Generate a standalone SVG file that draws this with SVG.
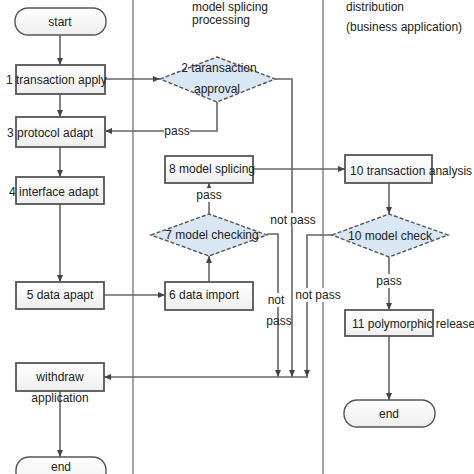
<svg xmlns="http://www.w3.org/2000/svg" width="474" height="474" viewBox="0 0 474 474">
<defs>
<marker id="ah" markerWidth="8" markerHeight="8" refX="7" refY="4" orient="auto" markerUnits="userSpaceOnUse">
<path d="M0,1 L7,4 L0,7 Z" fill="#444"/>
</marker>
<linearGradient id="bg" x1="0" y1="0" x2="0" y2="1">
<stop offset="0" stop-color="#ffffff"/>
<stop offset="1" stop-color="#eeeeee"/>
</linearGradient>
</defs>
<style>
text{font-family:"Liberation Sans",Arial,sans-serif;font-size:12px;fill:#222}
.box{fill:url(#bg);stroke:#555;stroke-width:1.8}
.pill{fill:url(#bg);stroke:#555;stroke-width:1.4}
.dia{fill:#d9e6f3;stroke:#555;stroke-width:1.4;stroke-dasharray:4 2}
.lane{stroke:#9a9a9a;stroke-width:1.8;fill:none}
.c{stroke:#666;stroke-width:1.6;fill:none}
.lbl{fill:#fff}
.m{text-anchor:middle}
</style>
<rect width="474" height="474" fill="#fff"/>
<g id="lanes">
<line class="lane" x1="133" y1="0" x2="133" y2="474"/>
<line class="lane" x1="323" y1="0" x2="323" y2="474"/>
<text x="192" y="11">model splicing</text>
<text x="192" y="24">processing</text>
<text x="346" y="11">distribution</text>
<text x="346" y="31">(business application)</text>
</g>
<g id="connectors">
<line class="c" x1="60" y1="35" x2="60" y2="65" marker-end="url(#ah)"/>
<line class="c" x1="60" y1="94" x2="60" y2="117" marker-end="url(#ah)"/>
<line class="c" x1="60" y1="147" x2="60" y2="177" marker-end="url(#ah)"/>
<line class="c" x1="60" y1="204" x2="60" y2="282" marker-end="url(#ah)"/>
<line class="c" x1="60" y1="391" x2="60" y2="457" marker-end="url(#ah)"/>
<line class="c" x1="105" y1="79" x2="160" y2="79" marker-end="url(#ah)"/>
<polyline class="c" points="217,102 217,131 105,131" marker-end="url(#ah)"/>
<polyline class="c" points="275,79 292,79 292,377" marker-end="url(#ah)"/>
<line class="c" x1="104" y1="295" x2="165" y2="295" marker-end="url(#ah)"/>
<line class="c" x1="209" y1="282" x2="209" y2="256" marker-end="url(#ah)"/>
<line class="c" x1="209" y1="214" x2="209" y2="183" marker-end="url(#ah)"/>
<polyline class="c" points="267,234 278,234 278,377" marker-end="url(#ah)"/>
<line class="c" x1="253" y1="169" x2="345" y2="169" marker-end="url(#ah)"/>
<line class="c" x1="389" y1="183" x2="389" y2="214" marker-end="url(#ah)"/>
<line class="c" x1="389" y1="257" x2="389" y2="310" marker-end="url(#ah)"/>
<line class="c" x1="389" y1="336" x2="389" y2="400" marker-end="url(#ah)"/>
<polyline class="c" points="332,235 307,235 307,377" marker-end="url(#ah)"/>
<line class="c" x1="308" y1="377" x2="104" y2="377" marker-end="url(#ah)"/>
<rect class="lbl" x="164" y="124" width="26" height="14"/>
<text class="m" x="177" y="135">pass</text>
<rect class="lbl" x="196" y="188" width="26" height="14"/>
<text class="m" x="209" y="199">pass</text>
<rect class="lbl" x="271" y="213" width="44" height="14"/>
<text class="m" x="293" y="224">not pass</text>
<rect class="lbl" x="265" y="293" width="22" height="14"/>
<text class="m" x="276" y="304">not</text>
<text class="m" x="279" y="325">pass</text>
<rect class="lbl" x="295" y="288" width="46" height="14"/>
<text class="m" x="318" y="299">not pass</text>
<rect class="lbl" x="376" y="274" width="26" height="14"/>
<text class="m" x="389" y="285">pass</text>
</g>
<g id="n-start"><rect class="pill" x="15" y="8" width="91" height="27" rx="13"/><text class="m" x="60" y="26">start</text></g>
<g id="n1"><rect class="box" x="16" y="65" width="89" height="29"/><text x="6" y="84">1 transaction apply</text></g>
<g id="n3"><rect class="box" x="16" y="117" width="89" height="30"/><text x="7" y="137">3 protocol adapt</text></g>
<g id="n4"><rect class="box" x="16" y="177" width="88" height="27"/><text x="9" y="196">4 interface adapt</text></g>
<g id="n5"><rect class="box" x="16" y="282" width="88" height="27"/><text class="m" x="60" y="299">5 data apapt</text></g>
<g id="n-withdraw"><rect class="box" x="16" y="363" width="88" height="28"/><text class="m" x="60" y="381">withdraw</text><text class="m" x="60" y="402">application</text></g>
<g id="n-end1"><rect class="pill" x="16" y="457" width="90" height="30" rx="13"/><text class="m" x="61" y="471">end</text></g>
<g id="n2"><polygon class="dia" points="160,79 217,57 275,79 217,102"/><text class="m" x="219" y="72">2 taransaction</text><text class="m" x="217" y="93">approval</text></g>
<g id="n8"><rect class="box" x="165" y="156" width="88" height="27"/><text x="169" y="173">8 model splicing</text></g>
<g id="n7"><polygon class="dia" points="151,235 209,214 267,235 209,256"/><text class="m" x="212" y="239">7 model checking</text></g>
<g id="n6"><rect class="box" x="165" y="282" width="88" height="28"/><text x="169" y="299">6 data import</text></g>
<g id="n10a"><rect class="box" x="345" y="155" width="87" height="28"/><text x="350" y="175">10 transaction analysis</text></g>
<g id="n10b"><polygon class="dia" points="332,235 389,214 448,235 389,257"/><text class="m" x="390" y="240">10 model check</text></g>
<g id="n11"><rect class="box" x="345" y="310" width="88" height="26"/><text x="352" y="328">11 polymorphic release</text></g>
<g id="n-end2"><rect class="pill" x="344" y="400" width="91" height="27" rx="13"/><text class="m" x="389" y="418">end</text></g>
</svg>
